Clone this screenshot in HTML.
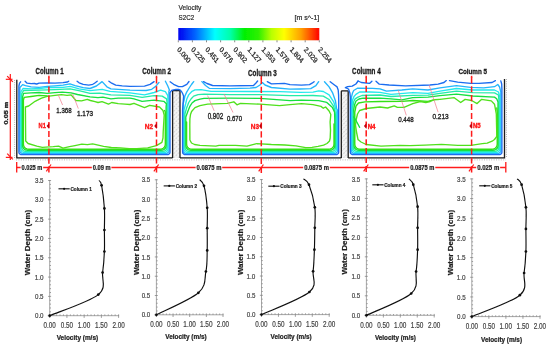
<!DOCTYPE html><html><head><meta charset="utf-8"><title>Velocity contours</title>
<style>html,body{margin:0;padding:0;background:#fff;width:550px;height:348px;overflow:hidden}svg{display:block}</style></head><body>
<svg width="550" height="348" viewBox="0 0 550 348" font-family="'Liberation Sans', Arial, sans-serif">
<defs>
<linearGradient id="cmap" x1="0" y1="0" x2="1" y2="0"><stop offset="0" stop-color="#0000f0"/><stop offset="0.12" stop-color="#0064ff"/><stop offset="0.26" stop-color="#00ffff"/><stop offset="0.37" stop-color="#00ffa8"/><stop offset="0.47" stop-color="#00f000"/><stop offset="0.57" stop-color="#30f000"/><stop offset="0.66" stop-color="#b8ff00"/><stop offset="0.75" stop-color="#ffff00"/><stop offset="0.87" stop-color="#ffa000"/><stop offset="1" stop-color="#ff0000"/></linearGradient>
<pattern id="hatch" width="3" height="3" patternUnits="userSpaceOnUse" patternTransform="rotate(45)"><rect width="3" height="3" fill="#f3f3f3"/><line x1="0" y1="0" x2="0" y2="3" stroke="#b4b4b4" stroke-width="0.9" stroke-dasharray="1 1"/></pattern>
<filter id="soft" x="0" y="0" width="1" height="1"><feGaussianBlur stdDeviation="0.45"/></filter>
</defs>
<rect width="550" height="348" fill="#fff"/>
<g filter="url(#soft)">
<text x="178.57" y="10.1" font-size="7.99" fill="#262626" stroke="#262626" stroke-width="0.2" textLength="22.84" lengthAdjust="spacingAndGlyphs">Velocity</text>
<text x="178.62" y="19.6" font-size="7.56" fill="#262626" stroke="#262626" stroke-width="0.2" textLength="15.6" lengthAdjust="spacingAndGlyphs">S2C2</text>
<text x="294.5" y="19.9" font-size="7.99" fill="#262626" stroke="#262626" stroke-width="0.2" textLength="24.8" lengthAdjust="spacingAndGlyphs">[m s^-1]</text>
<rect x="178.3" y="28" width="141" height="12.3" fill="url(#cmap)"/>
<line x1="178.3" y1="40.3" x2="178.3" y2="42.3" stroke="#555" stroke-width="0.7"/>
<text transform="translate(176.7,50.1) scale(0.85,1) rotate(45)" x="0" y="0" font-size="7.6" fill="#222" stroke="#222" stroke-width="0.25">0.000</text>
<line x1="192.4" y1="40.3" x2="192.4" y2="42.3" stroke="#555" stroke-width="0.7"/>
<text transform="translate(190.8,50.1) scale(0.85,1) rotate(45)" x="0" y="0" font-size="7.6" fill="#222" stroke="#222" stroke-width="0.25">0.225</text>
<line x1="206.5" y1="40.3" x2="206.5" y2="42.3" stroke="#555" stroke-width="0.7"/>
<text transform="translate(204.9,50.1) scale(0.85,1) rotate(45)" x="0" y="0" font-size="7.6" fill="#222" stroke="#222" stroke-width="0.25">0.451</text>
<line x1="220.6" y1="40.3" x2="220.6" y2="42.3" stroke="#555" stroke-width="0.7"/>
<text transform="translate(219,50.1) scale(0.85,1) rotate(45)" x="0" y="0" font-size="7.6" fill="#222" stroke="#222" stroke-width="0.25">0.676</text>
<line x1="234.7" y1="40.3" x2="234.7" y2="42.3" stroke="#555" stroke-width="0.7"/>
<text transform="translate(233.1,50.1) scale(0.85,1) rotate(45)" x="0" y="0" font-size="7.6" fill="#222" stroke="#222" stroke-width="0.25">0.902</text>
<line x1="248.8" y1="40.3" x2="248.8" y2="42.3" stroke="#555" stroke-width="0.7"/>
<text transform="translate(247.2,50.1) scale(0.85,1) rotate(45)" x="0" y="0" font-size="7.6" fill="#222" stroke="#222" stroke-width="0.25">1.127</text>
<line x1="262.9" y1="40.3" x2="262.9" y2="42.3" stroke="#555" stroke-width="0.7"/>
<text transform="translate(261.3,50.1) scale(0.85,1) rotate(45)" x="0" y="0" font-size="7.6" fill="#222" stroke="#222" stroke-width="0.25">1.353</text>
<line x1="277" y1="40.3" x2="277" y2="42.3" stroke="#555" stroke-width="0.7"/>
<text transform="translate(275.4,50.1) scale(0.85,1) rotate(45)" x="0" y="0" font-size="7.6" fill="#222" stroke="#222" stroke-width="0.25">1.578</text>
<line x1="291.1" y1="40.3" x2="291.1" y2="42.3" stroke="#555" stroke-width="0.7"/>
<text transform="translate(289.5,50.1) scale(0.85,1) rotate(45)" x="0" y="0" font-size="7.6" fill="#222" stroke="#222" stroke-width="0.25">1.804</text>
<line x1="305.2" y1="40.3" x2="305.2" y2="42.3" stroke="#555" stroke-width="0.7"/>
<text transform="translate(303.6,50.1) scale(0.85,1) rotate(45)" x="0" y="0" font-size="7.6" fill="#222" stroke="#222" stroke-width="0.25">2.029</text>
<line x1="319.3" y1="40.3" x2="319.3" y2="42.3" stroke="#555" stroke-width="0.7"/>
<text transform="translate(317.7,50.1) scale(0.85,1) rotate(45)" x="0" y="0" font-size="7.6" fill="#222" stroke="#222" stroke-width="0.25">2.254</text>
<line x1="14.6" y1="80" x2="14.6" y2="158" stroke="#b0b0b0" stroke-width="1" stroke-dasharray="1 1.2"/>
<line x1="16" y1="159.9" x2="506" y2="159.9" stroke="#b8b8b8" stroke-width="1" stroke-dasharray="1 1.4"/>
<line x1="506.4" y1="79" x2="506.4" y2="158" stroke="#b0b0b0" stroke-width="1" stroke-dasharray="1 1.2"/>
<rect x="172.6" y="90.6" width="7.4" height="67.3" fill="url(#hatch)"/>
<path d="M172.6,157.9 L172.6,91.39999999999999 Q172.6,90.6 173.4,90.6 L179.2,90.6 Q180.0,90.6 180.0,91.39999999999999 L180.0,157.9" fill="none" stroke="#1a1a1a" stroke-width="1.3"/>
<rect x="341.3" y="90.8" width="6.9" height="67.1" fill="url(#hatch)"/>
<path d="M341.3,157.9 L341.3,91.6 Q341.3,90.8 342.1,90.8 L347.4,90.8 Q348.2,90.8 348.2,91.6 L348.2,157.9" fill="none" stroke="#1a1a1a" stroke-width="1.3"/>
<path d="M16.8,79.8 L16.8,157.9 L172.6,157.9" fill="none" stroke="#1a1a1a" stroke-width="1.3"/>
<path d="M180,157.9 L341.3,157.9" fill="none" stroke="#1a1a1a" stroke-width="1.3"/>
<path d="M348.2,157.9 L504.5,157.9 L504.5,79" fill="none" stroke="#1a1a1a" stroke-width="1.3"/>
<g id="contours">
<polyline points="159,82.4 155.7,86.4 151.7,89.3 146.1,90.5 130,90.1 118.2,89.3 110.9,88.9 106.9,86.8 102.1,81.6 96.4,86 90,88.5 83.2,87.7 75.1,85.6 69.9,83.8 63,85.2 55,85.8 47.2,86.4 39.1,87.3 31.1,86.8 25.5,85.6 22.6,84.6 19.9,87.5 19.9,150.5 20.05,151.43 20.47,152.26 21.14,152.93 21.97,153.35 22.9,153.5 165.9,153.5 166.83,153.35 167.66,152.93 168.33,152.26 168.75,151.43 168.9,150.5 168.9,91 169.4,90.1 167.8,86 165.4,81.2" fill="none" stroke="#22b6fc" stroke-width="1.35" stroke-linejoin="round" stroke-linecap="round" />
<polyline points="20.8,92 23,88.5 31.1,88.9 39.1,88.5 47.2,87.7 55,87.5 63,87.3 70.3,86.4 79.1,88.9 90,90.7 102.1,89.3 110.1,91.3 130,92.8 144.5,94.9 154.1,92.5 160.6,90.1 165.4,91.7 167.8,95.7 167.9,99 167.9,148.9 167.73,149.98 167.23,150.96 166.46,151.73 165.48,152.23 164.4,152.4 24.3,152.4 23.22,152.23 22.24,151.73 21.47,150.96 20.97,149.98 20.8,148.9 20.8,92" fill="none" stroke="#22e8ec" stroke-width="1.35" stroke-linejoin="round" stroke-linecap="round" />
<polyline points="21.7,94 23.5,90.6 39,90.2 55,89.7 70,88.9 80,90.9 90,93.3 99.7,93.1 110.9,94.9 130,95.4 142.1,97.3 154.1,95.7 162.2,96.1 166.6,98.9 167,102 167,147.3 166.8,148.54 166.24,149.65 165.35,150.54 164.24,151.1 163,151.3 25.7,151.3 24.46,151.1 23.35,150.54 22.46,149.65 21.9,148.54 21.7,147.3 21.7,94" fill="none" stroke="#22eca8" stroke-width="1.35" stroke-linejoin="round" stroke-linecap="round" />
<polyline points="22.6,97 23.6,93.3 31.1,92.9 39.1,92.5 47.2,93.3 55,92.7 62.2,92.1 71.1,92.9 77.5,94.5 90,96.9 98,97.7 102.9,97.1 110.9,98.8 118.2,98.1 130,98.1 134,98.9 142.1,101.3 154.1,100.1 163.8,101.3 166.4,103.7 166.1,107 166.1,145.7 165.88,147.09 165.24,148.35 164.25,149.34 162.99,149.98 161.6,150.2 27.1,150.2 25.71,149.98 24.45,149.34 23.46,148.35 22.82,147.09 22.6,145.7 22.6,97" fill="none" stroke="#14e040" stroke-width="1.35" stroke-linejoin="round" stroke-linecap="round" />
<polyline points="47.2,95.8 39.1,95.4 31.1,96.5 24.2,97.3 23.4,100 23.4,144.2 23.64,145.75 24.35,147.14 25.46,148.25 26.85,148.96 28.4,149.2 160.3,149.2 161.85,148.96 163.24,148.25 164.35,147.14 165.06,145.75 165.3,144.2 165.3,112 164.6,110.5" fill="none" stroke="#30e012" stroke-width="1.35" stroke-linejoin="round" stroke-linecap="round" />
<polyline points="25.7,141 25.4,107 28.7,106 35.1,101.3 41.5,98.1 47.2,96.3 55,95.3 61.4,94.6 67.1,95.3 71.1,94.9 75.9,100.5 81.5,100.9 87.2,99.3 90.4,100.5 95,101.7 98,102.5 102.1,101.7 108.5,104.1 111.7,102.5 118.2,103.7 125,104.2 130,104.5 134,103.3 144.5,107.6 149.7,105.3 159.5,107 163,110.5 164.2,115 163.6,125 163.2,132 163,138 161.9,142.4 156.4,145.6 147.7,147.8 136.8,148.7 129.2,148.7 120.5,147.8 111.3,147.5 103.6,146.4 92.7,143.9 87.3,144.7 81.8,144.2 75,145.6 69.5,146.7 63,148.2 58.6,146.2 53.2,146.7 42.3,147.3 36.8,146.2 28.1,143.5 25.7,141" fill="none" stroke="#50e01c" stroke-width="1.35" stroke-linejoin="round" stroke-linecap="round" />
<polyline points="193.7,81.6 191.5,84.5 189.5,87.5 186.8,91.9 184.9,96 184.2,99.5 183.1,104 183.1,150.5 183.25,151.43 183.67,152.26 184.34,152.93 185.17,153.35 186.1,153.5 334.6,153.5 335.53,153.35 336.36,152.93 337.03,152.26 337.45,151.43 337.6,150.5 337.6,110 337.4,110 336.6,108.7 335.4,100.7 332.5,92.6 329.1,86.9 324.5,81.7" fill="none" stroke="#22b6fc" stroke-width="1.35" stroke-linejoin="round" stroke-linecap="round" />
<polyline points="201.9,81.6 205.5,85.5 209.3,88.3 230,88.6 250,88.1 256,87.5 260,85 262.4,82.6 265,85 271.4,87.5 290,89.2 300,89 310.7,88.6 315.9,85.7 318.7,81.7" fill="none" stroke="#22b6fc" stroke-width="1.35" stroke-linejoin="round" stroke-linecap="round" />
<polyline points="184,110 185.6,104 186.8,99 188.7,94.9 192,91.3 195,89.8 201,89.6 211,91.3 250,91.5 280,91.6 300,92.4 313,92.1 318.7,90.9 323.3,91.5 329.1,94.9 333.7,101.8 335.8,108.7 336.6,114 336.6,148.9 336.43,149.98 335.93,150.96 335.16,151.73 334.18,152.23 333.1,152.4 187.5,152.4 186.42,152.23 185.44,151.73 184.67,150.96 184.17,149.98 184,148.9 184,110" fill="none" stroke="#22e8ec" stroke-width="1.35" stroke-linejoin="round" stroke-linecap="round" />
<polyline points="184.9,114 186.6,108 188.7,102.5 191,99 193.7,96.1 198,94.6 204,94.2 230,94.6 260,94.6 290,95.6 300,95.6 313,95.5 323.3,96.1 329.1,99.5 333.7,106.4 335,112 335.7,117 335.7,147.3 335.5,148.54 334.94,149.65 334.05,150.54 332.94,151.1 331.7,151.3 188.9,151.3 187.66,151.1 186.55,150.54 185.66,149.65 185.1,148.54 184.9,147.3 184.9,114" fill="none" stroke="#22eca8" stroke-width="1.35" stroke-linejoin="round" stroke-linecap="round" />
<polyline points="185.8,117 188,111 189.9,106.3 192,103 195,100.6 200,99.2 204,98.4 230,98.2 260,98.4 290,100.7 301.5,100.1 318.7,100.7 326.8,102.4 332.5,107.6 334.6,112.2 334.8,121 334.8,145.7 334.58,147.09 333.94,148.35 332.95,149.34 331.69,149.98 330.3,150.2 190.3,150.2 188.91,149.98 187.65,149.34 186.66,148.35 186.02,147.09 185.8,145.7 185.8,117" fill="none" stroke="#14e040" stroke-width="1.35" stroke-linejoin="round" stroke-linecap="round" />
<polyline points="186.6,122 186.6,144.2 186.84,145.75 187.55,147.14 188.66,148.25 190.05,148.96 191.6,149.2 329,149.2 330.55,148.96 331.94,148.25 333.05,147.14 333.76,145.75 334,144.2 334,124" fill="none" stroke="#30e012" stroke-width="1.35" stroke-linejoin="round" stroke-linecap="round" />
<polyline points="189.9,140 189.8,125 189.9,118.9 190.5,114.5 191.6,111.5 195,107.6 200,105.6 207.6,104.2 227.3,103.4 233.8,101.8 237,104.8 240.4,103.4 260,104.2 279.5,105.6 290,104.7 301.5,103.6 313,104.7 321,106.4 323.3,108.2 325.6,107 329.1,111 330.8,114.5 330.1,122 330.5,130 330.2,138 329.5,141 327,143.5 323.6,145.2 318,146.3 312,147.3 305.7,147.7 296,145.8 285,145 271.4,144.5 256.7,143.6 247,146.1 235.5,145.3 219,145.3 215.8,146.1 200,145.4 194.5,144.5 191.5,143 189.9,140" fill="none" stroke="#50e01c" stroke-width="1.35" stroke-linejoin="round" stroke-linecap="round" />
<polyline points="351.3,104 351.4,97.4 352.5,93 353.7,90.5 357.4,88.2 372.7,88.3 380,88.9 386.5,91.1 401.8,90 412.7,88.9 428,90 440,87.8 456.4,85.6 470.5,87.3 483.6,87.8 494.5,86.7 497.8,84.5 499.6,87 500.8,92 500.8,150.5 500.65,151.43 500.23,152.26 499.56,152.93 498.73,153.35 497.8,153.5 354.3,153.5 353.37,153.35 352.54,152.93 351.87,152.26 351.45,151.43 351.3,150.5 351.3,104" fill="none" stroke="#22b6fc" stroke-width="1.35" stroke-linejoin="round" stroke-linecap="round" />
<polyline points="352.2,106 352.4,100.4 354,96.5 355.9,94.4 359.6,92 370,92 380,92.3 390.9,94.4 412.7,92.7 428,93.3 440,91.2 456.4,88.5 472.7,90 494.5,90 498.5,92 499.8,97 499.8,148.9 499.63,149.98 499.13,150.96 498.36,151.73 497.38,152.23 496.3,152.4 355.7,152.4 354.62,152.23 353.64,151.73 352.87,150.96 352.37,149.98 352.2,148.9 352.2,106" fill="none" stroke="#22e8ec" stroke-width="1.35" stroke-linejoin="round" stroke-linecap="round" />
<polyline points="353.1,110 352.9,106.4 353.8,101.5 355.1,98.9 358,97.2 362,95.5 380,95 390.9,96.5 412.7,95.4 428,95.2 440,93.4 456.4,91.2 472.7,92.7 494.5,92.8 498.4,95 498.9,100 498.9,147.3 498.7,148.54 498.14,149.65 497.25,150.54 496.14,151.1 494.9,151.3 357.1,151.3 355.86,151.1 354.75,150.54 353.86,149.65 353.3,148.54 353.1,147.3 353.1,110" fill="none" stroke="#22eca8" stroke-width="1.35" stroke-linejoin="round" stroke-linecap="round" />
<polyline points="354,114 353.7,110 354.5,105 356,101 359,99 363,98.2 380,98.2 390.9,98.8 401.8,99.8 412.7,97.7 428,97.2 440,95.6 456.4,94.2 472.7,96 494.5,97.1 496.7,98.7 498,102 498,145.7 497.78,147.09 497.14,148.35 496.15,149.34 494.89,149.98 493.5,150.2 358.5,150.2 357.11,149.98 355.85,149.34 354.86,148.35 354.22,147.09 354,145.7 354,114" fill="none" stroke="#14e040" stroke-width="1.35" stroke-linejoin="round" stroke-linecap="round" />
<polyline points="440,99.4 434.5,99.7 428,101.4 412.7,100.5 401.8,101.4 380,101.5 365,101.8 358.5,103 356,106 354.8,112 354.8,144.2 355.04,145.75 355.75,147.14 356.86,148.25 358.25,148.96 359.8,149.2 492.2,149.2 493.75,148.96 495.14,148.25 496.25,147.14 496.96,145.75 497.2,144.2 497.2,112 496.8,108" fill="none" stroke="#30e012" stroke-width="1.35" stroke-linejoin="round" stroke-linecap="round" />
<polyline points="358,139.5 356.5,132 355.5,125 356.3,119 357.5,114 359.6,110.5 366.2,108.5 380,107 387.6,108 394.2,105.9 397.4,107.4 404,107.4 412.7,103.7 420.3,101.5 425.8,102.5 430.2,101.5 434.5,99.7 440,99.4 454.2,97.7 460.7,102.5 465.1,99.4 471.6,100.5 477.1,103.6 481.4,99.4 491.3,100.9 494.5,104.2 495.6,110 496.3,114 496.8,136.3 494.5,139.5 492.1,141.2 487.2,143.2 482.3,143.7 470.8,145.3 457.7,145.3 441.4,144.4 425,145.2 410,145.6 400,145.3 381,146.1 366.2,144.5 361,142 358,139.5" fill="none" stroke="#50e01c" stroke-width="1.35" stroke-linejoin="round" stroke-linecap="round" />
<polyline points="353.7,116.9 356,120.5 359.6,127.3" fill="none" stroke="#14e040" stroke-width="1.35" stroke-linejoin="round" stroke-linecap="round" />
<polyline points="20.6,81.8 19.6,83.2 18.9,86 18.9,152.1 19.02,152.87 19.38,153.57 19.93,154.12 20.63,154.48 21.4,154.6 167.5,154.6 168.27,154.48 168.97,154.12 169.52,153.57 169.88,152.87 170,152.1 170,92.5 170.9,91.5 171.6,90.4 173.5,89.9 176,89.5 178,89.3 180,89.9 181.2,91.2 182.4,93 183.6,96.1 183.3,100 183,105 182.6,110 182.6,152.1 182.72,152.87 183.08,153.57 183.63,154.12 184.33,154.48 185.1,154.6 336.2,154.6 336.97,154.48 337.67,154.12 338.22,153.57 338.58,152.87 338.7,152.1 338.7,100 338.6,95 338.2,90 337.1,86.9 334.8,85.2 330.2,81.7" fill="none" stroke="#1a6cf0" stroke-width="1.35" stroke-linejoin="round" stroke-linecap="round" />
<polyline points="358.1,81 355.9,84 352.2,86.2 347.7,86.7 345.4,87.7 348.5,89 349.9,93 350.3,97 350.3,152.1 350.42,152.87 350.78,153.57 351.33,154.12 352.03,154.48 352.8,154.6 499.4,154.6 500.17,154.48 500.87,154.12 501.42,153.57 501.78,152.87 501.9,152.1 501.9,89 501.7,84 500.8,80.9" fill="none" stroke="#1a6cf0" stroke-width="1.35" stroke-linejoin="round" stroke-linecap="round" />
<polyline points="25.1,81.2 27.1,83.2 31.1,83.6 34.3,83.5 36.7,84 39.1,83.2 47.2,83 55,83.1 63,82.7 67.5,82 68.7,81.2" fill="none" stroke="#1a6cf0" stroke-width="1.35" stroke-linejoin="round" stroke-linecap="round" />
<polyline points="77.1,81.2 79.1,82.8 83.2,84.3 88.8,85.1 92.8,84.3 94.5,83.2 97.2,81.2" fill="none" stroke="#1a6cf0" stroke-width="1.35" stroke-linejoin="round" stroke-linecap="round" />
<polyline points="108.9,81.2 111.7,83.2 115.7,85.2 122.2,85.9 130,86.4 144.5,86.1 150.1,84.4 154.1,81.6" fill="none" stroke="#1a6cf0" stroke-width="1.35" stroke-linejoin="round" stroke-linecap="round" />
<polyline points="170.1,81.8 173.6,84.3 178.6,86.6 182.4,86.6 186.8,84.3 189,81.5" fill="none" stroke="#1a6cf0" stroke-width="1.35" stroke-linejoin="round" stroke-linecap="round" />
<polyline points="203.6,81.6 207,83.5 212.6,85.5 230,85.8 253.5,85.5 256,83 257.6,81" fill="none" stroke="#1a6cf0" stroke-width="1.35" stroke-linejoin="round" stroke-linecap="round" />
<polyline points="267.3,81.6 271.4,83.9 284.5,83.4 290,84.6 301.5,85.2 309.5,84.6 312,83.2 314.1,81.7" fill="none" stroke="#1a6cf0" stroke-width="1.35" stroke-linejoin="round" stroke-linecap="round" />
<polyline points="358.1,81 361.3,82.5 369.5,83.4 371.9,81.2" fill="none" stroke="#1a6cf0" stroke-width="1.35" stroke-linejoin="round" stroke-linecap="round" />
<polyline points="376,81.2 379.3,84.2 389.1,85 405.5,85.8 430,85 438.1,84.2 444,82.5 446.3,80.6" fill="none" stroke="#1a6cf0" stroke-width="1.35" stroke-linejoin="round" stroke-linecap="round" />
<polyline points="449.5,80.6 457.7,82.2 470.8,83.4 479,83.4 492.1,82.5 495.4,80.6" fill="none" stroke="#1a6cf0" stroke-width="1.35" stroke-linejoin="round" stroke-linecap="round" />
</g>
<line x1="58.1" y1="94.6" x2="62.6" y2="105" stroke="#f27a8c" stroke-width="0.7"/>
<line x1="72.6" y1="93.8" x2="78.3" y2="108.6" stroke="#f27a8c" stroke-width="0.7"/>
<line x1="207.6" y1="95.6" x2="214.2" y2="110.8" stroke="#f27a8c" stroke-width="0.7"/>
<line x1="224" y1="94" x2="233" y2="112.5" stroke="#f27a8c" stroke-width="0.7"/>
<line x1="398.1" y1="89.9" x2="406.3" y2="115.4" stroke="#f27a8c" stroke-width="0.7"/>
<line x1="429.1" y1="85" x2="438.1" y2="112.2" stroke="#f27a8c" stroke-width="0.7"/>
<text x="56.31" y="113.12" font-size="7.92" fill="#2a2a2a" stroke="#2a2a2a" stroke-width="0.4" textLength="15.39" lengthAdjust="spacingAndGlyphs">1.368</text>
<text x="76.99" y="115.92" font-size="7.92" fill="#2a2a2a" stroke="#2a2a2a" stroke-width="0.4" textLength="16.02" lengthAdjust="spacingAndGlyphs">1.173</text>
<text x="207.63" y="119.42" font-size="8.21" fill="#2a2a2a" stroke="#2a2a2a" stroke-width="0.4" textLength="15.61" lengthAdjust="spacingAndGlyphs">0.902</text>
<text x="227.04" y="120.72" font-size="7.92" fill="#2a2a2a" stroke="#2a2a2a" stroke-width="0.4" textLength="14.92" lengthAdjust="spacingAndGlyphs">0.670</text>
<text x="398.13" y="121.92" font-size="8.07" fill="#2a2a2a" stroke="#2a2a2a" stroke-width="0.4" textLength="15.46" lengthAdjust="spacingAndGlyphs">0.448</text>
<text x="432.42" y="118.62" font-size="8.07" fill="#2a2a2a" stroke="#2a2a2a" stroke-width="0.4" textLength="16.29" lengthAdjust="spacingAndGlyphs">0.213</text>
<line x1="48.9" y1="77.5" x2="48.9" y2="173" stroke="#ff1a1a" stroke-width="1.5" stroke-dasharray="6.1 2.8"/>
<line x1="48.9" y1="75.8" x2="48.9" y2="78.0" stroke="#ff1a1a" stroke-width="1.5"/>
<path d="M46.6,126 L49.2,123.1 L49.2,128.9 Z" fill="#c4000c"/>
<line x1="156.5" y1="77.3" x2="156.5" y2="173" stroke="#ff1a1a" stroke-width="1.5" stroke-dasharray="6.1 2.8"/>
<line x1="156.5" y1="75.8" x2="156.5" y2="77.8" stroke="#ff1a1a" stroke-width="1.5"/>
<path d="M154.2,126 L156.8,123.1 L156.8,128.9 Z" fill="#c4000c"/>
<line x1="261.3" y1="77.9" x2="261.3" y2="173" stroke="#ff1a1a" stroke-width="1.5" stroke-dasharray="6.1 2.8"/>
<line x1="261.3" y1="75.8" x2="261.3" y2="78.4" stroke="#ff1a1a" stroke-width="1.5"/>
<path d="M259,126 L261.6,123.1 L261.6,128.9 Z" fill="#c4000c"/>
<line x1="366.2" y1="76.9" x2="366.2" y2="173" stroke="#ff1a1a" stroke-width="1.5" stroke-dasharray="6.1 2.8"/>
<line x1="366.2" y1="75.8" x2="366.2" y2="77.4" stroke="#ff1a1a" stroke-width="1.5"/>
<path d="M363.9,126 L366.5,123.1 L366.5,128.9 Z" fill="#c4000c"/>
<line x1="471.6" y1="77.3" x2="471.6" y2="173" stroke="#ff1a1a" stroke-width="1.5" stroke-dasharray="6.1 2.8"/>
<line x1="471.6" y1="75.8" x2="471.6" y2="77.8" stroke="#ff1a1a" stroke-width="1.5"/>
<path d="M469.3,126 L471.9,123.1 L471.9,128.9 Z" fill="#c4000c"/>
<text x="35.62" y="73.52" font-size="8.5" font-weight="bold" fill="#1a1a1a" stroke="#1a1a1a" stroke-width="0.32" textLength="28.07" lengthAdjust="spacingAndGlyphs">Column 1</text>
<text x="142.32" y="74.22" font-size="8.65" font-weight="bold" fill="#1a1a1a" stroke="#1a1a1a" stroke-width="0.32" textLength="28.76" lengthAdjust="spacingAndGlyphs">Column 2</text>
<text x="248.02" y="75.82" font-size="8.21" font-weight="bold" fill="#1a1a1a" stroke="#1a1a1a" stroke-width="0.32" textLength="28.74" lengthAdjust="spacingAndGlyphs">Column 3</text>
<text x="352.12" y="74.02" font-size="8.36" font-weight="bold" fill="#1a1a1a" stroke="#1a1a1a" stroke-width="0.32" textLength="28.54" lengthAdjust="spacingAndGlyphs">Column 4</text>
<text x="458.42" y="74.42" font-size="8.07" font-weight="bold" fill="#1a1a1a" stroke="#1a1a1a" stroke-width="0.32" textLength="28.58" lengthAdjust="spacingAndGlyphs">Column 5</text>
<text x="38.59" y="127.62" font-size="7.92" font-weight="bold" fill="#ff1a1a" stroke="#ff1a1a" stroke-width="0.4" textLength="7.29" lengthAdjust="spacingAndGlyphs">N1</text>
<text x="144.84" y="128.92" font-size="7.63" font-weight="bold" fill="#ff1a1a" stroke="#ff1a1a" stroke-width="0.4" textLength="8.35" lengthAdjust="spacingAndGlyphs">N2</text>
<text x="250.84" y="128.62" font-size="7.49" font-weight="bold" fill="#ff1a1a" stroke="#ff1a1a" stroke-width="0.4" textLength="8.32" lengthAdjust="spacingAndGlyphs">N3</text>
<text x="367.67" y="128.62" font-size="6.32" font-weight="bold" fill="#ff1a1a" stroke="#ff1a1a" stroke-width="0.4" textLength="7.79" lengthAdjust="spacingAndGlyphs">N4</text>
<text x="472.88" y="127.82" font-size="6.32" font-weight="bold" fill="#ff1a1a" stroke="#ff1a1a" stroke-width="0.4" textLength="7.61" lengthAdjust="spacingAndGlyphs">N5</text>
<line x1="10.3" y1="74" x2="10.3" y2="160" stroke="#ff1a1a" stroke-width="1.2"/>
<line x1="5.8" y1="79.3" x2="12.5" y2="79.3" stroke="#ff1a1a" stroke-width="1.2"/>
<line x1="5.8" y1="157.4" x2="12.5" y2="157.4" stroke="#ff1a1a" stroke-width="1.2"/>
<line x1="7.2" y1="76.2" x2="12.8" y2="81.8" stroke="#ff1a1a" stroke-width="1.2"/>
<line x1="7.2" y1="153.6" x2="12.8" y2="159.4" stroke="#ff1a1a" stroke-width="1.2"/>
<rect x="3" y="101" width="6" height="24" fill="#fff"/>
<text transform="translate(8.1,113.1) scale(0.85,1) rotate(-90)" x="0" y="0" font-size="7.3" font-weight="bold" text-anchor="middle" fill="#1a1a1a" stroke="#1a1a1a" stroke-width="0.35">0.05 m</text>
<line x1="16.7" y1="167.5" x2="505.8" y2="167.5" stroke="#ff1a1a" stroke-width="1.3"/>
<line x1="16.7" y1="162" x2="16.7" y2="172.5" stroke="#ff1a1a" stroke-width="1.3"/>
<line x1="505.8" y1="162" x2="505.8" y2="172.5" stroke="#ff1a1a" stroke-width="1.3"/>
<line x1="46.3" y1="171.4" x2="51.0" y2="164.5" stroke="#ff1a1a" stroke-width="1.2"/>
<line x1="153.9" y1="171.4" x2="158.6" y2="164.5" stroke="#ff1a1a" stroke-width="1.2"/>
<line x1="258.7" y1="171.4" x2="263.40000000000003" y2="164.5" stroke="#ff1a1a" stroke-width="1.2"/>
<line x1="363.59999999999997" y1="171.4" x2="368.3" y2="164.5" stroke="#ff1a1a" stroke-width="1.2"/>
<line x1="469.0" y1="171.4" x2="473.70000000000005" y2="164.5" stroke="#ff1a1a" stroke-width="1.2"/>
<rect x="20.6" y="164.0" width="22.6" height="7" fill="#fff"/>
<text x="21.55" y="169.72" font-size="6.61" font-weight="bold" fill="#1a1a1a" stroke="#1a1a1a" stroke-width="0.22" textLength="20.83" lengthAdjust="spacingAndGlyphs">0.025 m</text>
<rect x="91.8" y="164.0" width="19.60000000000001" height="7" fill="#fff"/>
<text x="92.75" y="169.72" font-size="6.61" font-weight="bold" fill="#1a1a1a" stroke="#1a1a1a" stroke-width="0.22" textLength="17.83" lengthAdjust="spacingAndGlyphs">0.09 m</text>
<rect x="195.6" y="164.0" width="26.599999999999994" height="7" fill="#fff"/>
<text x="196.54" y="169.72" font-size="6.61" font-weight="bold" fill="#1a1a1a" stroke="#1a1a1a" stroke-width="0.22" textLength="24.85" lengthAdjust="spacingAndGlyphs">0.0875 m</text>
<rect x="303.2" y="164.0" width="26.600000000000023" height="7" fill="#fff"/>
<text x="304.14" y="169.72" font-size="6.61" font-weight="bold" fill="#1a1a1a" stroke="#1a1a1a" stroke-width="0.22" textLength="24.85" lengthAdjust="spacingAndGlyphs">0.0875 m</text>
<rect x="409.2" y="164.0" width="26.100000000000023" height="7" fill="#fff"/>
<text x="410.15" y="169.72" font-size="6.61" font-weight="bold" fill="#1a1a1a" stroke="#1a1a1a" stroke-width="0.22" textLength="24.33" lengthAdjust="spacingAndGlyphs">0.0875 m</text>
<rect x="476.2" y="164.0" width="23.900000000000034" height="7" fill="#fff"/>
<text x="477.14" y="169.72" font-size="6.61" font-weight="bold" fill="#1a1a1a" stroke="#1a1a1a" stroke-width="0.22" textLength="22.16" lengthAdjust="spacingAndGlyphs">0.025 m</text>
<line x1="49.7" y1="180" x2="49.7" y2="317.7" stroke="#9c9c9c" stroke-width="0.9"/>
<line x1="47.7" y1="315.7" x2="119.1" y2="315.7" stroke="#9c9c9c" stroke-width="0.9"/>
<path d="M48.1,315.7H51.1M49.7,311.84H51M49.7,307.97H51M49.7,304.11H51M49.7,300.25H51M48.1,296.39H51.1M49.7,292.52H51M49.7,288.66H51M49.7,284.8H51M49.7,280.93H51M48.1,277.07H51.1M49.7,273.21H51M49.7,269.35H51M49.7,265.48H51M49.7,261.62H51M48.1,257.76H51.1M49.7,253.89H51M49.7,250.03H51M49.7,246.17H51M49.7,242.31H51M48.1,238.44H51.1M49.7,234.58H51M49.7,230.72H51M49.7,226.85H51M49.7,222.99H51M48.1,219.13H51.1M49.7,215.27H51M49.7,211.4H51M49.7,207.54H51M49.7,203.68H51M48.1,199.81H51.1M49.7,195.95H51M49.7,192.09H51M49.7,188.23H51M49.7,184.36H51M48.1,180.5H51.1M49.7,314.3V317.9M53.15,314.4V315.7M56.59,314.4V315.7M60.04,314.4V315.7M63.48,314.4V315.7M66.92,314.3V317.9M70.37,314.4V315.7M73.81,314.4V315.7M77.26,314.4V315.7M80.7,314.4V315.7M84.15,314.3V317.9M87.59,314.4V315.7M91.04,314.4V315.7M94.48,314.4V315.7M97.93,314.4V315.7M101.38,314.3V317.9M104.82,314.4V315.7M108.27,314.4V315.7M111.71,314.4V315.7M115.16,314.4V315.7M118.6,314.3V317.9" stroke="#808080" stroke-width="0.75" fill="none"/>
<text x="34.96" y="318.3" font-size="7.56" fill="#424242" stroke="#424242" stroke-width="0.2" textLength="8.58" lengthAdjust="spacingAndGlyphs">0.0</text>
<text x="34.96" y="298.99" font-size="7.56" fill="#424242" stroke="#424242" stroke-width="0.2" textLength="8.6" lengthAdjust="spacingAndGlyphs">0.5</text>
<text x="34.72" y="279.67" font-size="7.56" fill="#424242" stroke="#424242" stroke-width="0.2" textLength="8.83" lengthAdjust="spacingAndGlyphs">1.0</text>
<text x="34.71" y="260.36" font-size="7.56" fill="#424242" stroke="#424242" stroke-width="0.2" textLength="8.85" lengthAdjust="spacingAndGlyphs">1.5</text>
<text x="34.89" y="241.04" font-size="7.56" fill="#424242" stroke="#424242" stroke-width="0.2" textLength="8.66" lengthAdjust="spacingAndGlyphs">2.0</text>
<text x="34.89" y="221.73" font-size="7.56" fill="#424242" stroke="#424242" stroke-width="0.2" textLength="8.68" lengthAdjust="spacingAndGlyphs">2.5</text>
<text x="34.97" y="202.41" font-size="7.56" fill="#424242" stroke="#424242" stroke-width="0.2" textLength="8.58" lengthAdjust="spacingAndGlyphs">3.0</text>
<text x="34.96" y="183.1" font-size="7.56" fill="#424242" stroke="#424242" stroke-width="0.2" textLength="8.6" lengthAdjust="spacingAndGlyphs">3.5</text>
<text x="43.55" y="328.2" font-size="8.58" fill="#424242" stroke="#424242" stroke-width="0.2" textLength="12.29" lengthAdjust="spacingAndGlyphs">0.00</text>
<text x="60.78" y="328.2" font-size="8.58" fill="#424242" stroke="#424242" stroke-width="0.2" textLength="12.29" lengthAdjust="spacingAndGlyphs">0.50</text>
<text x="77.76" y="328.2" font-size="8.58" fill="#424242" stroke="#424242" stroke-width="0.2" textLength="12.54" lengthAdjust="spacingAndGlyphs">1.00</text>
<text x="94.98" y="328.2" font-size="8.58" fill="#424242" stroke="#424242" stroke-width="0.2" textLength="12.54" lengthAdjust="spacingAndGlyphs">1.50</text>
<text x="112.38" y="328.2" font-size="8.58" fill="#424242" stroke="#424242" stroke-width="0.2" textLength="12.37" lengthAdjust="spacingAndGlyphs">2.00</text>
<text x="56.63" y="339.83" font-size="6.76" font-weight="bold" fill="#1e1e1e" stroke="#1e1e1e" stroke-width="0.22" textLength="41.51" lengthAdjust="spacingAndGlyphs">Velocity (m/s)</text>
<text transform="translate(30.2,242.5) scale(0.85,1) rotate(-90)" x="0" y="0" font-size="7.95" font-weight="bold" text-anchor="middle" fill="#1e1e1e" stroke="#1e1e1e" stroke-width="0.22">Water Depth (cm)</text>
<path d="M49.7,315.7 C57.8,312.18 89.48,301.78 98.3,294.6 C107.12,287.42 101.58,279.78 102.6,272.6 C103.62,265.42 104.1,258.6 104.4,251.5 C104.7,244.4 104.4,237.18 104.4,230 C104.4,222.82 104.87,215.85 104.4,208.4 C103.93,200.95 102.5,189.97 101.6,185.3 C100.7,180.63 99.43,181.22 99,180.4" fill="none" stroke="#111" stroke-width="1.15"/>
<circle cx="49.7" cy="315.7" r="1.35" fill="#111"/>
<circle cx="98.3" cy="294.6" r="1.35" fill="#111"/>
<circle cx="102.6" cy="272.6" r="1.35" fill="#111"/>
<circle cx="104.4" cy="251.5" r="1.35" fill="#111"/>
<circle cx="104.4" cy="230" r="1.35" fill="#111"/>
<circle cx="104.4" cy="208.4" r="1.35" fill="#111"/>
<circle cx="101.6" cy="185.3" r="1.35" fill="#111"/>
<line x1="58.5" y1="188.8" x2="69.7" y2="188.8" stroke="#111" stroke-width="1.1"/>
<circle cx="64.1" cy="188.8" r="1.15" fill="#111"/>
<text x="70.48" y="190.62" font-size="5.74" font-weight="bold" fill="#1a1a1a" stroke="#1a1a1a" stroke-width="0.22" textLength="21.27" lengthAdjust="spacingAndGlyphs">Column 1</text>
<line x1="156.4" y1="179.3" x2="156.4" y2="316.8" stroke="#9c9c9c" stroke-width="0.9"/>
<line x1="154.4" y1="314.8" x2="223.5" y2="314.8" stroke="#9c9c9c" stroke-width="0.9"/>
<path d="M154.8,314.8H157.8M156.4,310.94H157.7M156.4,307.09H157.7M156.4,303.23H157.7M156.4,299.37H157.7M154.8,295.51H157.8M156.4,291.66H157.7M156.4,287.8H157.7M156.4,283.94H157.7M156.4,280.09H157.7M154.8,276.23H157.8M156.4,272.37H157.7M156.4,268.51H157.7M156.4,264.66H157.7M156.4,260.8H157.7M154.8,256.94H157.8M156.4,253.09H157.7M156.4,249.23H157.7M156.4,245.37H157.7M156.4,241.51H157.7M154.8,237.66H157.8M156.4,233.8H157.7M156.4,229.94H157.7M156.4,226.09H157.7M156.4,222.23H157.7M154.8,218.37H157.8M156.4,214.51H157.7M156.4,210.66H157.7M156.4,206.8H157.7M156.4,202.94H157.7M154.8,199.09H157.8M156.4,195.23H157.7M156.4,191.37H157.7M156.4,187.51H157.7M156.4,183.66H157.7M154.8,179.8H157.8M156.4,313.4V317M159.73,313.5V314.8M163.06,313.5V314.8M166.39,313.5V314.8M169.72,313.5V314.8M173.05,313.4V317M176.38,313.5V314.8M179.71,313.5V314.8M183.04,313.5V314.8M186.37,313.5V314.8M189.7,313.4V317M193.03,313.5V314.8M196.36,313.5V314.8M199.69,313.5V314.8M203.02,313.5V314.8M206.35,313.4V317M209.68,313.5V314.8M213.01,313.5V314.8M216.34,313.5V314.8M219.67,313.5V314.8M223,313.4V317" stroke="#808080" stroke-width="0.75" fill="none"/>
<text x="141.66" y="317.4" font-size="7.56" fill="#424242" stroke="#424242" stroke-width="0.2" textLength="8.58" lengthAdjust="spacingAndGlyphs">0.0</text>
<text x="141.66" y="298.11" font-size="7.56" fill="#424242" stroke="#424242" stroke-width="0.2" textLength="8.6" lengthAdjust="spacingAndGlyphs">0.5</text>
<text x="141.42" y="278.83" font-size="7.56" fill="#424242" stroke="#424242" stroke-width="0.2" textLength="8.83" lengthAdjust="spacingAndGlyphs">1.0</text>
<text x="141.41" y="259.54" font-size="7.56" fill="#424242" stroke="#424242" stroke-width="0.2" textLength="8.85" lengthAdjust="spacingAndGlyphs">1.5</text>
<text x="141.59" y="240.26" font-size="7.56" fill="#424242" stroke="#424242" stroke-width="0.2" textLength="8.66" lengthAdjust="spacingAndGlyphs">2.0</text>
<text x="141.59" y="220.97" font-size="7.56" fill="#424242" stroke="#424242" stroke-width="0.2" textLength="8.68" lengthAdjust="spacingAndGlyphs">2.5</text>
<text x="141.67" y="201.69" font-size="7.56" fill="#424242" stroke="#424242" stroke-width="0.2" textLength="8.58" lengthAdjust="spacingAndGlyphs">3.0</text>
<text x="141.66" y="182.4" font-size="7.56" fill="#424242" stroke="#424242" stroke-width="0.2" textLength="8.6" lengthAdjust="spacingAndGlyphs">3.5</text>
<text x="150.25" y="327.3" font-size="8.58" fill="#424242" stroke="#424242" stroke-width="0.2" textLength="12.29" lengthAdjust="spacingAndGlyphs">0.00</text>
<text x="166.9" y="327.3" font-size="8.58" fill="#424242" stroke="#424242" stroke-width="0.2" textLength="12.29" lengthAdjust="spacingAndGlyphs">0.50</text>
<text x="183.31" y="327.3" font-size="8.58" fill="#424242" stroke="#424242" stroke-width="0.2" textLength="12.54" lengthAdjust="spacingAndGlyphs">1.00</text>
<text x="199.96" y="327.3" font-size="8.58" fill="#424242" stroke="#424242" stroke-width="0.2" textLength="12.54" lengthAdjust="spacingAndGlyphs">1.50</text>
<text x="216.78" y="327.3" font-size="8.58" fill="#424242" stroke="#424242" stroke-width="0.2" textLength="12.37" lengthAdjust="spacingAndGlyphs">2.00</text>
<text x="165.23" y="339.03" font-size="6.9" font-weight="bold" fill="#1e1e1e" stroke="#1e1e1e" stroke-width="0.22" textLength="41.51" lengthAdjust="spacingAndGlyphs">Velocity (m/s)</text>
<text transform="translate(138.5,242.4) scale(0.85,1) rotate(-90)" x="0" y="0" font-size="7.95" font-weight="bold" text-anchor="middle" fill="#1e1e1e" stroke="#1e1e1e" stroke-width="0.22">Water Depth (cm)</text>
<path d="M156.4,314.8 C163.4,311.13 190.15,300.02 198.4,292.8 C206.65,285.58 204.43,278.57 205.9,271.5 C207.37,264.43 206.98,257.62 207.2,250.4 C207.42,243.18 207.2,235.3 207.2,228.2 C207.2,221.1 207.73,214.87 207.2,207.8 C206.67,200.73 205.25,190.48 204,185.8 C202.75,181.12 200.42,180.72 199.7,179.7" fill="none" stroke="#111" stroke-width="1.15"/>
<circle cx="156.4" cy="314.8" r="1.35" fill="#111"/>
<circle cx="198.4" cy="292.8" r="1.35" fill="#111"/>
<circle cx="205.9" cy="271.5" r="1.35" fill="#111"/>
<circle cx="207.2" cy="250.4" r="1.35" fill="#111"/>
<circle cx="207.2" cy="228.2" r="1.35" fill="#111"/>
<circle cx="207.2" cy="207.8" r="1.35" fill="#111"/>
<circle cx="204" cy="185.8" r="1.35" fill="#111"/>
<line x1="163.7" y1="185.9" x2="174.9" y2="185.9" stroke="#111" stroke-width="1.1"/>
<circle cx="169.3" cy="185.9" r="1.15" fill="#111"/>
<text x="175.68" y="187.72" font-size="5.74" font-weight="bold" fill="#1a1a1a" stroke="#1a1a1a" stroke-width="0.22" textLength="21.33" lengthAdjust="spacingAndGlyphs">Column 2</text>
<line x1="261.5" y1="179.1" x2="261.5" y2="316.6" stroke="#9c9c9c" stroke-width="0.9"/>
<line x1="259.5" y1="314.6" x2="329.7" y2="314.6" stroke="#9c9c9c" stroke-width="0.9"/>
<path d="M259.9,314.6H262.9M261.5,310.74H262.8M261.5,306.89H262.8M261.5,303.03H262.8M261.5,299.17H262.8M259.9,295.31H262.9M261.5,291.46H262.8M261.5,287.6H262.8M261.5,283.74H262.8M261.5,279.89H262.8M259.9,276.03H262.9M261.5,272.17H262.8M261.5,268.31H262.8M261.5,264.46H262.8M261.5,260.6H262.8M259.9,256.74H262.9M261.5,252.89H262.8M261.5,249.03H262.8M261.5,245.17H262.8M261.5,241.31H262.8M259.9,237.46H262.9M261.5,233.6H262.8M261.5,229.74H262.8M261.5,225.89H262.8M261.5,222.03H262.8M259.9,218.17H262.9M261.5,214.31H262.8M261.5,210.46H262.8M261.5,206.6H262.8M261.5,202.74H262.8M259.9,198.89H262.9M261.5,195.03H262.8M261.5,191.17H262.8M261.5,187.31H262.8M261.5,183.46H262.8M259.9,179.6H262.9M261.5,313.2V316.8M264.88,313.3V314.6M268.27,313.3V314.6M271.65,313.3V314.6M275.04,313.3V314.6M278.43,313.2V316.8M281.81,313.3V314.6M285.19,313.3V314.6M288.58,313.3V314.6M291.96,313.3V314.6M295.35,313.2V316.8M298.74,313.3V314.6M302.12,313.3V314.6M305.5,313.3V314.6M308.89,313.3V314.6M312.27,313.2V316.8M315.66,313.3V314.6M319.05,313.3V314.6M322.43,313.3V314.6M325.81,313.3V314.6M329.2,313.2V316.8" stroke="#808080" stroke-width="0.75" fill="none"/>
<text x="246.76" y="317.2" font-size="7.56" fill="#424242" stroke="#424242" stroke-width="0.2" textLength="8.58" lengthAdjust="spacingAndGlyphs">0.0</text>
<text x="246.76" y="297.91" font-size="7.56" fill="#424242" stroke="#424242" stroke-width="0.2" textLength="8.6" lengthAdjust="spacingAndGlyphs">0.5</text>
<text x="246.52" y="278.63" font-size="7.56" fill="#424242" stroke="#424242" stroke-width="0.2" textLength="8.83" lengthAdjust="spacingAndGlyphs">1.0</text>
<text x="246.51" y="259.34" font-size="7.56" fill="#424242" stroke="#424242" stroke-width="0.2" textLength="8.85" lengthAdjust="spacingAndGlyphs">1.5</text>
<text x="246.69" y="240.06" font-size="7.56" fill="#424242" stroke="#424242" stroke-width="0.2" textLength="8.66" lengthAdjust="spacingAndGlyphs">2.0</text>
<text x="246.69" y="220.77" font-size="7.56" fill="#424242" stroke="#424242" stroke-width="0.2" textLength="8.68" lengthAdjust="spacingAndGlyphs">2.5</text>
<text x="246.77" y="201.49" font-size="7.56" fill="#424242" stroke="#424242" stroke-width="0.2" textLength="8.58" lengthAdjust="spacingAndGlyphs">3.0</text>
<text x="246.76" y="182.2" font-size="7.56" fill="#424242" stroke="#424242" stroke-width="0.2" textLength="8.6" lengthAdjust="spacingAndGlyphs">3.5</text>
<text x="255.35" y="327.1" font-size="8.58" fill="#424242" stroke="#424242" stroke-width="0.2" textLength="12.29" lengthAdjust="spacingAndGlyphs">0.00</text>
<text x="272.28" y="327.1" font-size="8.58" fill="#424242" stroke="#424242" stroke-width="0.2" textLength="12.29" lengthAdjust="spacingAndGlyphs">0.50</text>
<text x="288.96" y="327.1" font-size="8.58" fill="#424242" stroke="#424242" stroke-width="0.2" textLength="12.54" lengthAdjust="spacingAndGlyphs">1.00</text>
<text x="305.88" y="327.1" font-size="8.58" fill="#424242" stroke="#424242" stroke-width="0.2" textLength="12.54" lengthAdjust="spacingAndGlyphs">1.50</text>
<text x="322.98" y="327.1" font-size="8.58" fill="#424242" stroke="#424242" stroke-width="0.2" textLength="12.37" lengthAdjust="spacingAndGlyphs">2.00</text>
<text x="270.53" y="339.03" font-size="7.05" font-weight="bold" fill="#1e1e1e" stroke="#1e1e1e" stroke-width="0.22" textLength="41.21" lengthAdjust="spacingAndGlyphs">Velocity (m/s)</text>
<text transform="translate(242.5,242.4) scale(0.85,1) rotate(-90)" x="0" y="0" font-size="7.95" font-weight="bold" text-anchor="middle" fill="#1e1e1e" stroke="#1e1e1e" stroke-width="0.22">Water Depth (cm)</text>
<path d="M261.5,314.6 C269.48,310.83 300.8,299.22 309.4,292 C318,284.78 312.27,278.35 313.1,271.3 C313.93,264.25 314.12,256.95 314.4,249.7 C314.68,242.45 314.73,234.87 314.8,227.8 C314.87,220.73 315.77,214.48 314.8,207.3 C313.83,200.12 310.9,189.43 309,184.7 C307.1,179.97 304.33,179.87 303.4,178.9" fill="none" stroke="#111" stroke-width="1.15"/>
<circle cx="261.5" cy="314.6" r="1.35" fill="#111"/>
<circle cx="309.4" cy="292" r="1.35" fill="#111"/>
<circle cx="313.1" cy="271.3" r="1.35" fill="#111"/>
<circle cx="314.4" cy="249.7" r="1.35" fill="#111"/>
<circle cx="314.8" cy="227.8" r="1.35" fill="#111"/>
<circle cx="314.8" cy="207.3" r="1.35" fill="#111"/>
<circle cx="309" cy="184.7" r="1.35" fill="#111"/>
<line x1="268.3" y1="186.2" x2="279.5" y2="186.2" stroke="#111" stroke-width="1.1"/>
<circle cx="273.9" cy="186.2" r="1.15" fill="#111"/>
<text x="280.28" y="188.02" font-size="5.74" font-weight="bold" fill="#1a1a1a" stroke="#1a1a1a" stroke-width="0.22" textLength="21.31" lengthAdjust="spacingAndGlyphs">Column 3</text>
<line x1="366.4" y1="178.4" x2="366.4" y2="317.3" stroke="#9c9c9c" stroke-width="0.9"/>
<line x1="364.4" y1="315.3" x2="434.7" y2="315.3" stroke="#9c9c9c" stroke-width="0.9"/>
<path d="M364.8,315.3H367.8M366.4,311.4H367.7M366.4,307.51H367.7M366.4,303.61H367.7M366.4,299.71H367.7M364.8,295.81H367.8M366.4,291.92H367.7M366.4,288.02H367.7M366.4,284.12H367.7M366.4,280.23H367.7M364.8,276.33H367.8M366.4,272.43H367.7M366.4,268.53H367.7M366.4,264.64H367.7M366.4,260.74H367.7M364.8,256.84H367.8M366.4,252.95H367.7M366.4,249.05H367.7M366.4,245.15H367.7M366.4,241.25H367.7M364.8,237.36H367.8M366.4,233.46H367.7M366.4,229.56H367.7M366.4,225.67H367.7M366.4,221.77H367.7M364.8,217.87H367.8M366.4,213.97H367.7M366.4,210.08H367.7M366.4,206.18H367.7M366.4,202.28H367.7M364.8,198.39H367.8M366.4,194.49H367.7M366.4,190.59H367.7M366.4,186.69H367.7M366.4,182.8H367.7M364.8,178.9H367.8M366.4,313.9V317.5M369.79,314V315.3M373.18,314V315.3M376.57,314V315.3M379.96,314V315.3M383.35,313.9V317.5M386.74,314V315.3M390.13,314V315.3M393.52,314V315.3M396.91,314V315.3M400.3,313.9V317.5M403.69,314V315.3M407.08,314V315.3M410.47,314V315.3M413.86,314V315.3M417.25,313.9V317.5M420.64,314V315.3M424.03,314V315.3M427.42,314V315.3M430.81,314V315.3M434.2,313.9V317.5" stroke="#808080" stroke-width="0.75" fill="none"/>
<text x="351.66" y="317.9" font-size="7.56" fill="#424242" stroke="#424242" stroke-width="0.2" textLength="8.58" lengthAdjust="spacingAndGlyphs">0.0</text>
<text x="351.66" y="298.41" font-size="7.56" fill="#424242" stroke="#424242" stroke-width="0.2" textLength="8.6" lengthAdjust="spacingAndGlyphs">0.5</text>
<text x="351.42" y="278.93" font-size="7.56" fill="#424242" stroke="#424242" stroke-width="0.2" textLength="8.83" lengthAdjust="spacingAndGlyphs">1.0</text>
<text x="351.41" y="259.44" font-size="7.56" fill="#424242" stroke="#424242" stroke-width="0.2" textLength="8.85" lengthAdjust="spacingAndGlyphs">1.5</text>
<text x="351.59" y="239.96" font-size="7.56" fill="#424242" stroke="#424242" stroke-width="0.2" textLength="8.66" lengthAdjust="spacingAndGlyphs">2.0</text>
<text x="351.59" y="220.47" font-size="7.56" fill="#424242" stroke="#424242" stroke-width="0.2" textLength="8.68" lengthAdjust="spacingAndGlyphs">2.5</text>
<text x="351.67" y="200.99" font-size="7.56" fill="#424242" stroke="#424242" stroke-width="0.2" textLength="8.58" lengthAdjust="spacingAndGlyphs">3.0</text>
<text x="351.66" y="181.5" font-size="7.56" fill="#424242" stroke="#424242" stroke-width="0.2" textLength="8.6" lengthAdjust="spacingAndGlyphs">3.5</text>
<text x="360.25" y="327.8" font-size="8.58" fill="#424242" stroke="#424242" stroke-width="0.2" textLength="12.29" lengthAdjust="spacingAndGlyphs">0.00</text>
<text x="377.2" y="327.8" font-size="8.58" fill="#424242" stroke="#424242" stroke-width="0.2" textLength="12.29" lengthAdjust="spacingAndGlyphs">0.50</text>
<text x="393.91" y="327.8" font-size="8.58" fill="#424242" stroke="#424242" stroke-width="0.2" textLength="12.54" lengthAdjust="spacingAndGlyphs">1.00</text>
<text x="410.86" y="327.8" font-size="8.58" fill="#424242" stroke="#424242" stroke-width="0.2" textLength="12.54" lengthAdjust="spacingAndGlyphs">1.50</text>
<text x="427.98" y="327.8" font-size="8.58" fill="#424242" stroke="#424242" stroke-width="0.2" textLength="12.37" lengthAdjust="spacingAndGlyphs">2.00</text>
<text x="374.93" y="340.23" font-size="6.47" font-weight="bold" fill="#1e1e1e" stroke="#1e1e1e" stroke-width="0.22" textLength="40.91" lengthAdjust="spacingAndGlyphs">Velocity (m/s)</text>
<text transform="translate(347.2,241.9) scale(0.85,1) rotate(-90)" x="0" y="0" font-size="7.95" font-weight="bold" text-anchor="middle" fill="#1e1e1e" stroke="#1e1e1e" stroke-width="0.22">Water Depth (cm)</text>
<path d="M366.4,315.3 C373.87,311.67 402.92,300.8 411.2,293.5 C419.48,286.2 415.03,278.8 416.1,271.5 C417.17,264.2 417.35,256.98 417.6,249.7 C417.85,242.42 417.6,234.97 417.6,227.8 C417.6,220.63 418.32,213.88 417.6,206.7 C416.88,199.52 414.73,189.33 413.3,184.7 C411.87,180.07 409.72,179.87 409,178.9" fill="none" stroke="#111" stroke-width="1.15"/>
<circle cx="366.4" cy="315.3" r="1.35" fill="#111"/>
<circle cx="411.2" cy="293.5" r="1.35" fill="#111"/>
<circle cx="416.1" cy="271.5" r="1.35" fill="#111"/>
<circle cx="417.6" cy="249.7" r="1.35" fill="#111"/>
<circle cx="417.6" cy="227.8" r="1.35" fill="#111"/>
<circle cx="417.6" cy="206.7" r="1.35" fill="#111"/>
<circle cx="413.3" cy="184.7" r="1.35" fill="#111"/>
<line x1="372.3" y1="184.8" x2="383.5" y2="184.8" stroke="#111" stroke-width="1.1"/>
<circle cx="377.9" cy="184.8" r="1.15" fill="#111"/>
<text x="384.28" y="186.62" font-size="5.74" font-weight="bold" fill="#1a1a1a" stroke="#1a1a1a" stroke-width="0.22" textLength="21.17" lengthAdjust="spacingAndGlyphs">Column 4</text>
<line x1="471.8" y1="178.4" x2="471.8" y2="318.6" stroke="#9c9c9c" stroke-width="0.9"/>
<line x1="469.8" y1="316.6" x2="540.5" y2="316.6" stroke="#9c9c9c" stroke-width="0.9"/>
<path d="M470.2,316.6H473.2M471.8,312.67H473.1M471.8,308.73H473.1M471.8,304.8H473.1M471.8,300.86H473.1M470.2,296.93H473.2M471.8,292.99H473.1M471.8,289.06H473.1M471.8,285.13H473.1M471.8,281.19H473.1M470.2,277.26H473.2M471.8,273.32H473.1M471.8,269.39H473.1M471.8,265.45H473.1M471.8,261.52H473.1M470.2,257.59H473.2M471.8,253.65H473.1M471.8,249.72H473.1M471.8,245.78H473.1M471.8,241.85H473.1M470.2,237.91H473.2M471.8,233.98H473.1M471.8,230.05H473.1M471.8,226.11H473.1M471.8,222.18H473.1M470.2,218.24H473.2M471.8,214.31H473.1M471.8,210.37H473.1M471.8,206.44H473.1M471.8,202.51H473.1M470.2,198.57H473.2M471.8,194.64H473.1M471.8,190.7H473.1M471.8,186.77H473.1M471.8,182.83H473.1M470.2,178.9H473.2M471.8,315.2V318.8M475.21,315.3V316.6M478.62,315.3V316.6M482.03,315.3V316.6M485.44,315.3V316.6M488.85,315.2V318.8M492.26,315.3V316.6M495.67,315.3V316.6M499.08,315.3V316.6M502.49,315.3V316.6M505.9,315.2V318.8M509.31,315.3V316.6M512.72,315.3V316.6M516.13,315.3V316.6M519.54,315.3V316.6M522.95,315.2V318.8M526.36,315.3V316.6M529.77,315.3V316.6M533.18,315.3V316.6M536.59,315.3V316.6M540,315.2V318.8" stroke="#808080" stroke-width="0.75" fill="none"/>
<text x="457.06" y="319.2" font-size="7.56" fill="#424242" stroke="#424242" stroke-width="0.2" textLength="8.58" lengthAdjust="spacingAndGlyphs">0.0</text>
<text x="457.06" y="299.53" font-size="7.56" fill="#424242" stroke="#424242" stroke-width="0.2" textLength="8.6" lengthAdjust="spacingAndGlyphs">0.5</text>
<text x="456.82" y="279.86" font-size="7.56" fill="#424242" stroke="#424242" stroke-width="0.2" textLength="8.83" lengthAdjust="spacingAndGlyphs">1.0</text>
<text x="456.81" y="260.19" font-size="7.56" fill="#424242" stroke="#424242" stroke-width="0.2" textLength="8.85" lengthAdjust="spacingAndGlyphs">1.5</text>
<text x="456.99" y="240.51" font-size="7.56" fill="#424242" stroke="#424242" stroke-width="0.2" textLength="8.66" lengthAdjust="spacingAndGlyphs">2.0</text>
<text x="456.99" y="220.84" font-size="7.56" fill="#424242" stroke="#424242" stroke-width="0.2" textLength="8.68" lengthAdjust="spacingAndGlyphs">2.5</text>
<text x="457.07" y="201.17" font-size="7.56" fill="#424242" stroke="#424242" stroke-width="0.2" textLength="8.58" lengthAdjust="spacingAndGlyphs">3.0</text>
<text x="457.06" y="181.5" font-size="7.56" fill="#424242" stroke="#424242" stroke-width="0.2" textLength="8.6" lengthAdjust="spacingAndGlyphs">3.5</text>
<text x="465.65" y="329.1" font-size="8.58" fill="#424242" stroke="#424242" stroke-width="0.2" textLength="12.29" lengthAdjust="spacingAndGlyphs">0.00</text>
<text x="482.7" y="329.1" font-size="8.58" fill="#424242" stroke="#424242" stroke-width="0.2" textLength="12.29" lengthAdjust="spacingAndGlyphs">0.50</text>
<text x="499.51" y="329.1" font-size="8.58" fill="#424242" stroke="#424242" stroke-width="0.2" textLength="12.54" lengthAdjust="spacingAndGlyphs">1.00</text>
<text x="516.56" y="329.1" font-size="8.58" fill="#424242" stroke="#424242" stroke-width="0.2" textLength="12.54" lengthAdjust="spacingAndGlyphs">1.50</text>
<text x="533.78" y="329.1" font-size="8.58" fill="#424242" stroke="#424242" stroke-width="0.2" textLength="12.37" lengthAdjust="spacingAndGlyphs">2.00</text>
<text x="481.03" y="341.93" font-size="6.47" font-weight="bold" fill="#1e1e1e" stroke="#1e1e1e" stroke-width="0.22" textLength="41.01" lengthAdjust="spacingAndGlyphs">Velocity (m/s)</text>
<text transform="translate(453.1,242.6) scale(0.85,1) rotate(-90)" x="0" y="0" font-size="7.95" font-weight="bold" text-anchor="middle" fill="#1e1e1e" stroke="#1e1e1e" stroke-width="0.22">Water Depth (cm)</text>
<path d="M471.8,316.6 C479.8,313.03 511.08,302.47 519.8,295.2 C528.52,287.93 523.08,280.28 524.1,273 C525.12,265.72 525.6,258.85 525.9,251.5 C526.2,244.15 525.9,236.27 525.9,228.9 C525.9,221.53 526.62,214.67 525.9,207.3 C525.18,199.93 523.05,189.43 521.6,184.7 C520.15,179.97 517.93,179.87 517.2,178.9" fill="none" stroke="#111" stroke-width="1.15"/>
<circle cx="471.8" cy="316.6" r="1.35" fill="#111"/>
<circle cx="519.8" cy="295.2" r="1.35" fill="#111"/>
<circle cx="524.1" cy="273" r="1.35" fill="#111"/>
<circle cx="525.9" cy="251.5" r="1.35" fill="#111"/>
<circle cx="525.9" cy="228.9" r="1.35" fill="#111"/>
<circle cx="525.9" cy="207.3" r="1.35" fill="#111"/>
<circle cx="521.6" cy="184.7" r="1.35" fill="#111"/>
<line x1="479.2" y1="185.8" x2="490.4" y2="185.8" stroke="#111" stroke-width="1.1"/>
<circle cx="484.8" cy="185.8" r="1.15" fill="#111"/>
<text x="491.18" y="187.62" font-size="5.74" font-weight="bold" fill="#1a1a1a" stroke="#1a1a1a" stroke-width="0.22" textLength="21.27" lengthAdjust="spacingAndGlyphs">Column 5</text>
</g></svg></body></html>
